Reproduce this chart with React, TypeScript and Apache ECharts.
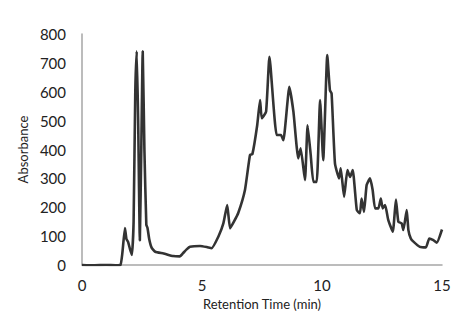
import React, { useEffect, useRef } from "react";
import * as echarts from "echarts";

const times = [
  0, 0.5, 1.0, 1.4, 1.6, 1.68, 1.79, 1.85, 1.92, 2.0, 2.08, 2.15, 2.22, 2.28, 2.34, 2.41, 2.47, 2.53,
  2.6, 2.68, 2.73, 2.8, 2.9, 3.05, 3.4, 3.8, 4.08, 4.2, 4.36, 4.5, 4.92, 5.2, 5.4, 5.68, 5.89, 6.05,
  6.17, 6.33, 6.51, 6.79, 7.0, 7.1, 7.3, 7.42, 7.49, 7.67, 7.81, 8.11, 8.29, 8.39, 8.64, 8.81, 9.01,
  9.11, 9.29, 9.4, 9.53, 9.64, 9.78, 9.92, 10.05, 10.22, 10.33, 10.4, 10.54, 10.71, 10.78, 10.92,
  11.06, 11.17, 11.28, 11.45, 11.58, 11.65, 11.75, 11.86, 12.0, 12.11, 12.21, 12.35, 12.45, 12.53,
  12.63, 12.76, 12.95, 13.08, 13.18, 13.32, 13.39, 13.53, 13.6, 13.7, 13.81, 14.08, 14.33, 14.47,
  14.64, 14.78, 15.0,
];

const absorbance = [
  0, -1, 0, -1, 0, 40, 128, 90, 80, 55, 35, 150, 600, 740, 500, 85, 400, 740,
  400, 140, 128, 90, 60, 46, 40, 31, 30, 40, 54, 63, 66, 62, 58, 98, 144, 208,
  127, 150, 180, 260, 381, 384, 484, 571, 508, 531, 721, 450, 450, 432, 617, 530, 369,
  404, 294, 484, 381, 288, 288, 571, 363, 727, 605, 594, 352, 300, 335, 236,
  329, 305, 329, 190, 179, 230, 184, 277, 300, 260, 196, 196, 230, 196,
  208, 156, 115, 227, 150, 144, 121, 190, 121, 92, 81, 63, 61, 92,
  86, 77, 123,
];

const xTicks = { min: 0, max: 15, interval: 5 };
const yTicks = { min: 0, max: 800, interval: 100 };

export default function App() {
  const ref = useRef<HTMLDivElement>(null);
  useEffect(() => {
    if (!ref.current) return;
    const chart = echarts.init(ref.current, undefined, { renderer: "svg" });
    const font = "Lato, 'Open Sans', sans-serif";
    chart.setOption({
      animation: false,
      grid: { left: 82, right: 32, top: 34, bottom: 68 },
      xAxis: {
        type: "value",
        min: xTicks.min,
        max: xTicks.max,
        interval: xTicks.interval,
        name: "Retention Time (min)",
        nameLocation: "middle",
        nameGap: 32,
        nameTextStyle: { fontFamily: font, fontSize: 13, color: "#222" },
        axisLine: { show: true, lineStyle: { color: "#a6a6a6", width: 1.5 } },
        axisTick: { show: false },
        splitLine: { show: false },
        axisLabel: { fontFamily: font, fontSize: 15, color: "#222", margin: 12 },
      },
      yAxis: {
        type: "value",
        min: yTicks.min,
        max: yTicks.max,
        interval: yTicks.interval,
        name: "Absorbance",
        nameLocation: "middle",
        nameGap: 44,
        nameTextStyle: { fontFamily: font, fontSize: 13, color: "#222" },
        axisLine: { show: true, lineStyle: { color: "#a6a6a6", width: 1.5 } },
        axisTick: { show: false },
        splitLine: { show: false },
        axisLabel: { fontFamily: font, fontSize: 15, color: "#222", margin: 16 },
      },
      series: [
        {
          type: "line",
          data: times.map((t, i) => [t, absorbance[i]]),
          showSymbol: false,
          symbol: "none",
          smooth: 0.15,
          lineStyle: { color: "#333333", width: 2.6 },
        },
      ],
    });
    return () => chart.dispose();
  }, []);
  return <div ref={ref} style={{ width: 474, height: 333, position: "absolute", left: 0, top: 0 }} />;
}
